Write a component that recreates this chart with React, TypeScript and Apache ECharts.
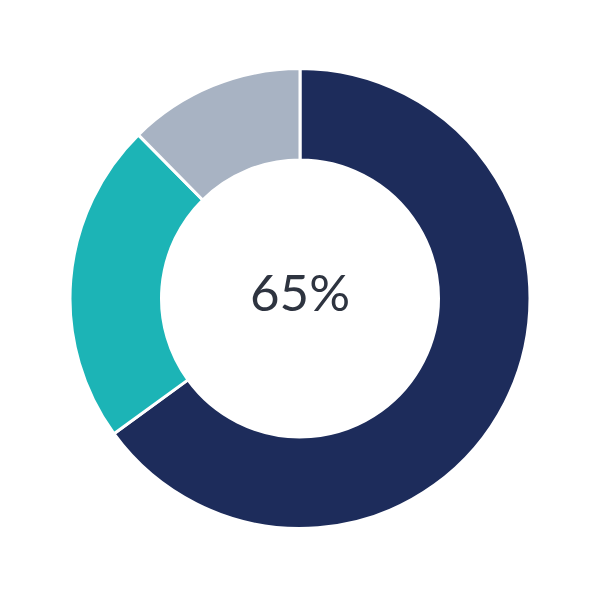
import React, { useEffect, useRef } from "react";
import * as echarts from "echarts";

const categories = ["Primary", "Secondary", "Other"];
const values = [65, 22.6, 12.4];
const colors = ["#1d2c5b", "#1cb4b6", "#a8b3c3"];
const centerLabel = "65%";

export default function App() {
  const ref = useRef<HTMLDivElement>(null);
  useEffect(() => {
    if (!ref.current) return;
    const chart = echarts.init(ref.current, null, { renderer: "svg" });
    chart.setOption({
      animation: false,
      backgroundColor: "#ffffff",
      title: {
        text: centerLabel,
        left: "center",
        top: 261,
        textStyle: {
          fontFamily: "Lato",
          fontWeight: 400,
          fontSize: 51,
          color: "#2e3440",
        },
      },
      series: [
        {
          type: "pie",
          center: [300, 298.5],
          radius: [138.5, 230],
          startAngle: 90,
          clockwise: true,
          label: { show: false },
          labelLine: { show: false },
          itemStyle: { borderColor: "#ffffff", borderWidth: 3 },
          emphasis: { disabled: true },
          data: categories.map((c, i) => ({
            name: c,
            value: values[i],
            itemStyle: { color: colors[i] },
          })),
        },
      ],
    });
    return () => chart.dispose();
  }, []);
  return (
    <div
      ref={ref}
      style={{ position: "fixed", left: 0, top: 0, width: 600, height: 599 }}
    />
  );
}
